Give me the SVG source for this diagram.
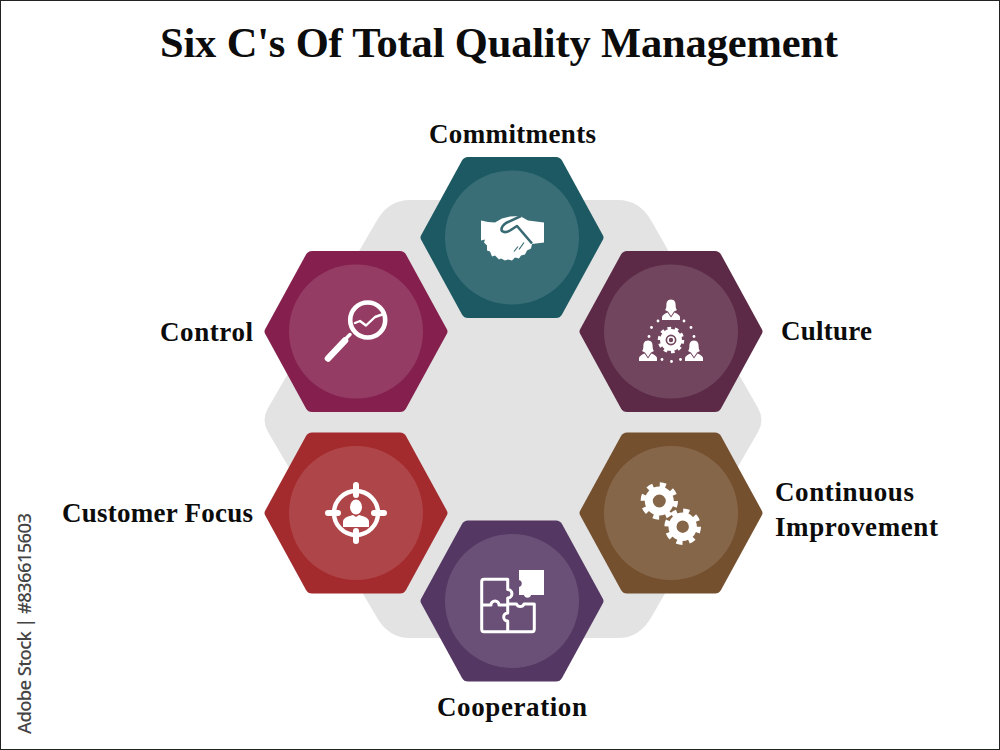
<svg xmlns="http://www.w3.org/2000/svg" width="1000" height="750" viewBox="0 0 1000 750">
<style>
.t{font-family:"Liberation Serif","Times New Roman",serif;font-weight:700;fill:#0c0c0c;font-size:27px}
.c{fill:#fff;fill-opacity:.13}
.w{fill:#fff}
.l{fill:none;stroke:#fff;stroke-linecap:round;stroke-linejoin:round}
.ring{fill:none;stroke:#fff;stroke-width:8}
.teeth{fill:none;stroke:#fff;stroke-width:5}
</style>
<defs>
<path id="hex" d="M-91,-2 L-50,-77 Q-48,-80.5 -44,-80.5 L44,-80.5 Q48,-80.5 50,-77 L91,-2 Q92,0 91,2 L50,77 Q48,80.5 44,80.5 L-44,80.5 Q-48,80.5 -50,77 L-91,2 Q-92,0 -91,-2 Z"/>
<g id="person" class="w">
<path d="M0,-10.5 C-3.6,-10.5 -4.6,-7.6 -4.6,-5 C-4.6,-2.4 -5.2,-0.8 -6,0 L-3,1.4 L0,6 L3,1.4 L6,0 C5.2,-0.8 4.6,-2.4 4.6,-5 C4.6,-7.6 3.6,-10.5 0,-10.5 Z"/>
<path d="M-9,10 L-9,7 Q-8.5,4.4 -3.5,2.4 L0,7.4 L3.5,2.4 Q8.5,4.4 9,7 L9,10 Z"/>
</g>
</defs>
<rect x="0.5" y="0.5" width="999" height="749" fill="#fff" stroke="#222" stroke-width="1"/>
<path id="backdrop" fill="#e3e3e3" d="M268,408 L376,222 Q388,200 410,200 L618,200 Q640,200 652,222 L758,408 Q765,420 758,432 L652,616 Q640,638 618,638 L410,638 Q388,638 376,616 L268,432 Q261,420 268,408 Z"/>
<text id="title" class="t" x="160" y="57" style="font-size:42.5px" textLength="678" lengthAdjust="spacing">Six C's Of Total Quality Management</text>

<g id="node-commitments" transform="translate(512,237.5)">
<use href="#hex" fill="#1c5962"/><circle class="c" r="67"/>
<path class="w" d="M-31,-17 L-24,-15.5 L-17,-15 L-10,-19 L-2,-21 L8,-21.5 L16,-17 L32,-15 L32,5 L20,6.5 L19,11 L15,13 L13,17 L9,18 L7,21 L3,20 L0,23 L-4,22 L-7,23 L-11,21 L-13,22 L-17,18 L-20,19 L-22,14 L-25,13 L-25,8 L-28,5 L-27,2 L-31,3 Z"/>
<path d="M9,-21.5 L-6,-14.5 Q-12,-10 -10,-6.5 Q-7,-4 -2,-7 L5,-11.5 L20,6" fill="none" stroke="#376a72" stroke-width="2.6" stroke-linejoin="round"/>
<path d="M6,9 L2,14 M12,5 L7,12" fill="none" stroke="#376a72" stroke-width="1.2"/>
</g>

<g id="node-culture" transform="translate(671,331.5)">
<use href="#hex" fill="#5c2a46"/><circle class="c" r="67"/>
<use href="#person" transform="translate(0,-21.5)"/>
<use href="#person" transform="translate(-23,19.5)"/>
<use href="#person" transform="translate(23,19.5)"/>
<circle class="l" cy="8.5" r="8.2" stroke-width="5.5"/>
<circle class="l" cy="8.5" r="11.5" stroke-width="3.5" stroke-dasharray="3.6 3.6" style="stroke-linecap:butt"/>
<circle class="l" cy="8.5" r="3" stroke-width="1.6"/>
<g class="w">
<circle cx="-13" cy="-10.5" r="1.4"/><circle cx="13" cy="-10.5" r="1.4"/><circle cx="-19.5" cy="-4" r="1.4"/><circle cx="20" cy="-4" r="1.4"/><circle cx="-22" cy="5" r="1.4"/><circle cx="23" cy="5" r="1.4"/><circle cx="-9" cy="28" r="1.4"/><circle cx="0.5" cy="30" r="1.4"/><circle cx="9.5" cy="28" r="1.4"/>
</g>
</g>

<g id="node-control" transform="translate(356,331.5)">
<use href="#hex" fill="#85204e"/><circle class="c" r="67"/>
<circle class="l" cx="11.7" cy="-11.5" r="17.5" stroke-width="4.6"/>
<path class="l" d="M-6,3 L-12,9" stroke-width="3.5"/>
<path class="l" d="M-11,9 L-28,27" stroke-width="6.5"/>
<path class="l" d="M-1,-8.5 L4,-10.5 L10,-6 L19,-14.5 L26,-17" stroke-width="2.4"/>
</g>

<g id="node-customer-focus" transform="translate(356,513)">
<use href="#hex" fill="#a32a2d"/><circle class="c" r="67"/>
<circle class="l" r="22" stroke-width="4.4"/>
<path class="l" d="M0,-28 L0,-18 M0,18 L0,28 M-28,0 L-18,0 M18,0 L28,0" stroke-width="6"/>
<ellipse class="w" cx="0" cy="-6" rx="6" ry="7.5"/>
<path class="w" d="M-13,14 L-13,8 Q-12.5,4 -3,2 L0,4 L3,2 Q12.5,4 13,8 L13,14 Z"/>
</g>

<g id="node-continuous-improvement" transform="translate(671,513)">
<use href="#hex" fill="#75502f"/><circle class="c" r="67"/>
<circle class="ring" cx="-11.7" cy="-12" r="10.5"/>
<circle class="teeth" cx="-11.7" cy="-12" r="16.2" stroke-dasharray="6 6.72"/>
<circle class="ring" cx="11.7" cy="13.7" r="10.2"/>
<circle class="teeth" cx="11.7" cy="13.7" r="15.8" stroke-dasharray="6 6.41"/>
</g>

<g id="node-cooperation" transform="translate(512,601)">
<use href="#hex" fill="#543763"/><circle class="c" r="67"/>
<path class="w" d="M7,-31 L32,-31 L32,-6 L19,-6 A3.6,3.6 0 0 1 12,-6 L7,-6 L7,-14 A3.6,3.6 0 0 0 7,-21 Z"/>
<path class="l" stroke-width="3" d="M-4.3,-11.5 L-4.3,-21.7 L-28,-21.7 Q-30.3,-21.7 -30.3,-19 L-30.3,28 Q-30.3,30.7 -28,30.7 L20,30.7 Q22.3,30.7 22.3,28 L22.3,3 L12,3 A4,4 0 0 1 4.5,3 L-4.3,3 L-4.3,12 A4,4 0 0 0 -4.3,20 L-4.3,30.7 M-30.3,4 L-21,4 A4,4 0 0 1 -13,4 L-4.3,4 M-4.3,-11.5 A4.2,4.2 0 0 1 -4.3,-3 L-4.3,3"/>
</g>

<text class="t" x="429" y="143" textLength="167" lengthAdjust="spacing">Commitments</text>
<text class="t" x="781" y="340" textLength="91" lengthAdjust="spacing">Culture</text>
<text class="t" x="160" y="341" textLength="93" lengthAdjust="spacing">Control</text>
<text class="t" x="62" y="522" textLength="191" lengthAdjust="spacing">Customer Focus</text>
<text class="t" x="775" y="501" textLength="139" lengthAdjust="spacing">Continuous</text>
<text class="t" x="775" y="536" textLength="163" lengthAdjust="spacing">Improvement</text>
<text class="t" x="437" y="716" textLength="150" lengthAdjust="spacing">Cooperation</text>
<text transform="translate(31,734) rotate(-90)" font-family="'Noto Sans','Open Sans',sans-serif" font-size="18.5" font-weight="500" fill="#444" textLength="221" lengthAdjust="spacing">Adobe Stock | #836615603</text>
</svg>
